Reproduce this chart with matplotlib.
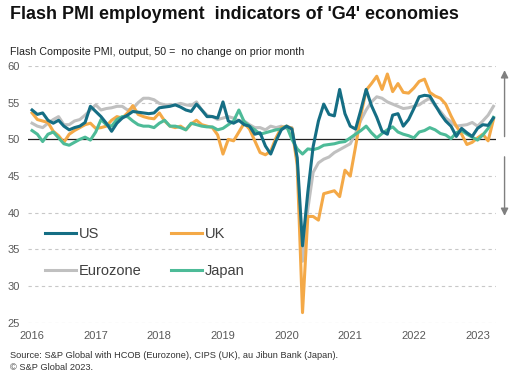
import numpy as np
import pandas as pd
from matplotlib import pyplot as plt

plt.rcParams['font.family'] = ['Liberation Sans', 'DejaVu Sans']

# monthly, Jan 2016 .. Apr 2023
months = pd.date_range("2016-01-01", "2023-04-01", freq="MS")

us = [54.0, 53.4, 53.6, 52.6, 52.2, 52.6, 51.8, 51.3, 51.6, 51.8, 52.3, 54.5,
      53.8, 53.1, 52.2, 51.1, 52.2, 52.9, 53.3, 53.8, 53.7, 53.6, 53.5, 53.6,
      54.3, 54.4, 54.5, 54.7, 54.4, 54.0, 53.8, 54.8, 54.0, 53.1, 53.1, 52.9,
      55.1, 52.5, 52.2, 52.6, 52.0, 51.8, 50.7, 50.9, 49.1, 48.0, 49.8, 51.3,
      51.8, 51.4, 47.5, 35.5, 42.8, 49.0, 52.5, 54.8, 53.4, 53.2, 56.8, 53.5,
      51.8, 51.4, 54.0, 56.8, 54.6, 53.0, 51.1, 50.7, 53.3, 53.5, 51.8, 52.7,
      54.2, 55.8, 56.0, 55.9, 54.7, 53.5, 52.5, 51.8, 50.4, 51.5, 50.9, 50.4,
      51.5, 52.0, 51.9, 52.9]

uk = [53.6, 52.7, 52.5, 52.3, 51.1, 50.5, 49.6, 50.7, 51.2, 51.6, 52.0, 52.2,
      51.5, 51.6, 51.8, 52.6, 53.1, 52.9, 53.6, 54.6, 53.4, 53.1, 52.9, 52.8,
      53.6, 52.5, 51.8, 51.6, 51.8, 51.3, 52.1, 52.6, 52.0, 51.8, 51.6, 50.6,
      48.0, 50.0, 49.8, 51.0, 52.2, 51.4, 49.8, 48.2, 47.9, 48.4, 50.2, 51.6,
      51.8, 51.5, 46.5, 26.4, 39.5, 39.5, 39.0, 42.6, 42.8, 43.0, 42.2, 45.8,
      45.0, 49.0, 53.3, 56.7, 57.6, 58.6, 56.8, 58.9, 56.5, 57.6, 56.4, 56.3,
      57.0, 57.9, 58.2, 56.4, 55.9, 55.6, 54.8, 53.2, 51.8, 50.7, 49.3, 49.6,
      50.2, 50.7, 49.8, 52.7]

eurozone = [52.2, 51.8, 51.6, 52.2, 52.7, 53.1, 52.0, 52.0, 52.5, 52.7, 53.3, 54.0,
            54.7, 54.0, 54.2, 54.3, 54.5, 54.5, 54.0, 54.2, 55.0, 55.6, 55.6, 55.4,
            54.9, 54.7, 54.7, 54.7, 54.9, 54.7, 54.6, 55.1, 54.0, 53.3, 53.1, 52.7,
            52.9, 53.1, 52.9, 52.5, 52.5, 52.0, 51.6, 51.6, 51.3, 51.8, 51.6, 51.8,
            51.5, 51.6, 47.0, 33.4, 40.5, 45.5, 46.8, 47.3, 47.6, 48.2, 48.6, 49.0,
            49.4, 50.8, 52.6, 54.0, 55.1, 55.8, 55.6, 55.1, 54.8, 54.5, 54.2, 54.3,
            54.5, 54.7, 55.2, 55.6, 54.6, 53.8, 52.9, 52.4, 51.8, 51.9, 52.0, 52.3,
            51.8, 52.5, 53.3, 54.5]

japan = [51.2, 50.7, 49.7, 50.7, 51.0, 50.2, 49.4, 49.2, 49.6, 50.0, 50.3, 49.9,
         51.0, 52.7, 52.0, 51.8, 52.7, 53.1, 53.1, 52.5, 52.0, 51.8, 51.8, 51.6,
         52.2, 52.6, 51.8, 51.8, 51.6, 51.3, 52.2, 52.0, 51.8, 51.7, 51.7, 51.3,
         51.5, 52.0, 52.5, 54.0, 52.4, 51.8, 51.3, 50.7, 50.9, 51.1, 51.3, 51.4,
         51.8, 50.0, 48.7, 48.0, 48.7, 48.6, 48.8, 49.2, 49.3, 49.4, 49.6, 49.7,
         50.2, 50.7, 51.2, 51.8, 50.9, 50.2, 50.8, 51.3, 51.7, 51.0, 50.7, 50.5,
         50.2, 51.0, 51.2, 51.6, 51.3, 50.8, 50.6, 50.1, 50.9, 51.2, 50.7, 50.3,
         49.9, 50.6, 51.5, 53.0]

years = ['2016', '2017', '2018', '2019', '2020', '2021', '2022', '2023']
yticks = [25, 30, 35, 40, 45, 50, 55, 60]

c_us = '#156e84'
c_uk = '#f4a947'
c_ez = '#c0c0c0'
c_jp = '#4dbb98'

x = np.arange(len(months))

fig = plt.figure(figsize=(5.30, 3.79), dpi=100)
ax = fig.add_axes([0.053, 0.148, 0.883, 0.678])

# grid
for v in yticks:
    if v == 50:
        ax.axhline(v, color='#222222', lw=0.9, zorder=1)
    else:
        ax.axhline(v, color='#c8c8c8', lw=0.8, ls=(0, (3, 3)), zorder=0)

ax.plot(x, eurozone, color=c_ez, lw=2.2, label='Eurozone', zorder=3)
ax.plot(x, uk, color=c_uk, lw=2.2, label='UK', zorder=4)
ax.plot(x, japan, color=c_jp, lw=2.2, label='Japan', zorder=5)
ax.plot(x, us, color=c_us, lw=2.2, label='US', zorder=6)

ax.set_xlim(-0.75, 87.5)
ax.set_ylim(25, 60)
ax.set_yticks(yticks)
ax.set_yticklabels([str(v) for v in yticks])
ax.set_xticks(np.arange(0, 88, 12))
ax.set_xticklabels(years)
ax.tick_params(axis='both', length=0, labelsize=8, colors='#595959')
ax.tick_params(axis='y', pad=6)
ax.tick_params(axis='x', pad=6)
for s in ax.spines.values():
    s.set_visible(False)

# legend: US, UK / Eurozone, Japan
h, l = ax.get_legend_handles_labels()
order = [3, 0, 1, 2]  # US, Eurozone, UK, Japan (column-major)
leg = ax.legend([h[i] for i in order], [l[i] for i in order], ncol=2,
                loc='upper left', bbox_to_anchor=(0.009, 0.424), frameon=False,
                fontsize=10.5, handlelength=2.1, handletextpad=0.2,
                columnspacing=2.0, labelspacing=1.6, labelcolor='#404040')

# arrows on the right
ax.annotate('', xy=(89.1, 59.8), xytext=(89.1, 50.0), xycoords='data',
            arrowprops=dict(arrowstyle='-|>', color='#7f7f7f', lw=1.0,
                            mutation_scale=11), annotation_clip=False)
ax.annotate('', xy=(89.1, 39.2), xytext=(89.1, 48.0), xycoords='data',
            arrowprops=dict(arrowstyle='-|>', color='#7f7f7f', lw=1.0,
                            mutation_scale=11), annotation_clip=False)

fig.text(0.019, 0.962, "Flash PMI employment  indicators of 'G4' economies",
         fontsize=12.9, fontweight='bold', color='#111111', va='center')
fig.text(0.019, 0.862, "Flash Composite PMI, output, 50 =  no change on prior month",
         fontsize=7.7, color='#222222', va='center')
fig.text(0.019, 0.063,
         "Source: S&P Global with HCOB (Eurozone), CIPS (UK), au Jibun Bank (Japan).",
         fontsize=6.65, color='#333333', va='center')
fig.text(0.019, 0.031, "\u00a9 S&P Global 2023.", fontsize=6.65, color='#333333', va='center')

fig.savefig('out.png', dpi=100)
